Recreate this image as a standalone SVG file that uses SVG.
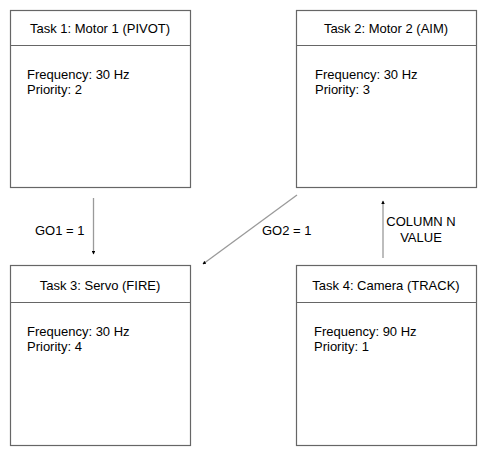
<svg xmlns="http://www.w3.org/2000/svg" width="490" height="462" viewBox="0 0 490 462">
<defs>
<style>
.box{fill:#ffffff;stroke:#666666;stroke-width:1.2}
.t{font-family:"Liberation Sans",Arial,sans-serif;font-size:13px;fill:#000000}
.c{text-anchor:middle}
.conn{stroke:#9a9a9a;stroke-width:1.3;fill:none;marker-end:url(#ah)}
</style>
<marker id="ah" viewBox="0 0 6 6" refX="5" refY="3" markerWidth="3.5" markerHeight="3.5" orient="auto" markerUnits="userSpaceOnUse">
<path d="M0,0 L6,3 L0,6 z" fill="#000000"/>
</marker>
</defs>
<rect width="490" height="462" fill="#ffffff"/>
<g id="task1">
<rect class="box" x="10.5" y="10.5" width="180" height="177"/>
<line class="box" x1="10.5" y1="45.5" x2="190.5" y2="45.5"/>
<text class="t c" x="100" y="33">Task 1: Motor 1 (PIVOT)</text>
<text class="t" x="27" y="79">Frequency: 30 Hz</text>
<text class="t" x="27" y="94">Priority: 2</text>
</g>
<g id="task2">
<rect class="box" x="296.5" y="10.5" width="180" height="177"/>
<line class="box" x1="296.5" y1="45.5" x2="476.5" y2="45.5"/>
<text class="t c" x="386" y="33">Task 2: Motor 2 (AIM)</text>
<text class="t" x="315" y="79">Frequency: 30 Hz</text>
<text class="t" x="315" y="94">Priority: 3</text>
</g>
<g id="task3">
<rect class="box" x="10.5" y="265.5" width="180" height="180"/>
<line class="box" x1="10.5" y1="302.5" x2="190.5" y2="302.5"/>
<text class="t c" x="100" y="290">Task 3: Servo (FIRE)</text>
<text class="t" x="27" y="336">Frequency: 30 Hz</text>
<text class="t" x="27" y="351">Priority: 4</text>
</g>
<g id="task4">
<rect class="box" x="296.5" y="265.5" width="180" height="180"/>
<line class="box" x1="296.5" y1="302.5" x2="476.5" y2="302.5"/>
<text class="t c" x="386" y="290">Task 4: Camera (TRACK)</text>
<text class="t" x="314" y="336">Frequency: 90 Hz</text>
<text class="t" x="314" y="351">Priority: 1</text>
</g>
<g id="connectors">
<line class="conn" x1="93.5" y1="198" x2="93.5" y2="254"/>
<line class="conn" x1="297" y1="195" x2="203" y2="264"/>
<line class="conn" x1="383" y1="258" x2="383" y2="201"/>
<text class="t" x="35" y="235">GO1 = 1</text>
<text class="t" x="262" y="235">GO2 = 1</text>
<text class="t c" x="421" y="226">COLUMN N</text>
<text class="t c" x="421" y="242">VALUE</text>
</g>
</svg>
